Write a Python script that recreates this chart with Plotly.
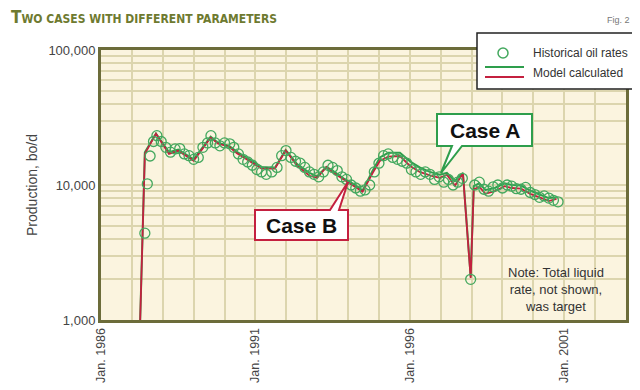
import plotly.graph_objects as go

# ---------------- data ----------------
hist_year = [1987.42, 1987.50, 1987.59, 1987.70, 1987.81, 1987.95, 1988.10, 1988.25, 1988.40, 1988.55,
             1988.70, 1988.85, 1989.00, 1989.15, 1989.30, 1989.45, 1989.56, 1989.70, 1989.85, 1990.00,
             1990.17, 1990.30, 1990.45, 1990.60, 1990.75, 1990.90, 1991.05, 1991.20, 1991.35, 1991.53,
             1991.70, 1991.85, 1991.99, 1992.15, 1992.30, 1992.45, 1992.60, 1992.75, 1992.90, 1993.05,
             1993.20, 1993.35, 1993.50, 1993.65, 1993.80, 1993.95, 1994.10, 1994.25, 1994.40, 1994.55,
             1994.70, 1994.85, 1995.00, 1995.15, 1995.30, 1995.45, 1995.60, 1995.75, 1995.90, 1996.05,
             1996.20, 1996.35, 1996.50, 1996.65, 1996.80, 1996.95, 1997.10, 1997.25, 1997.40, 1997.55,
             1997.70, 1997.97, 1998.10, 1998.25, 1998.40, 1998.55, 1998.70, 1998.85, 1999.00, 1999.15,
             1999.30, 1999.45, 1999.60, 1999.75, 1999.90, 2000.05, 2000.20, 2000.35, 2000.50, 2000.65,
             2000.80]
hist_rate = [4400, 10200, 16400, 21000, 23200, 21000, 19000, 17500, 18500, 18600,
             17000, 16500, 15500, 16000, 19000, 20500, 23200, 20500, 19500, 20500,
             20200, 19000, 17000, 15500, 14800, 14000, 13000, 12500, 12000, 12500,
             13500, 16500, 18000, 16000, 15000, 14500, 13500, 12500, 12000, 11500,
             12500, 14000, 13500, 12800, 11500, 11000, 10000, 9500, 9000, 9200,
             10000, 12500, 14500, 16500, 17000, 16000, 15500, 15000, 14500, 13000,
             12500, 12000, 12500, 12000, 11000, 11500, 10500, 11000, 10000, 10500,
             11200, 2000, 10000, 10500, 9300, 9000, 9700, 10000, 9500, 10000,
             9800, 9400, 9300, 9600, 8800, 8500, 8100, 8300, 8000, 7700,
             7500]

model_year = [1987.26, 1987.42, 1987.78, 1988.20, 1988.50, 1989.00, 1989.55, 1989.80, 1990.15, 1990.40,
              1990.70, 1991.20, 1991.63, 1991.98, 1992.35, 1992.75, 1993.00, 1993.30, 1993.50, 1993.85,
              1994.20, 1994.47, 1994.80, 1995.03, 1995.30, 1995.68, 1996.00, 1996.32, 1996.65, 1996.97,
              1997.20, 1997.46, 1997.72, 1997.97, 1998.07, 1998.25, 1998.45, 1998.75, 1999.07, 1999.30,
              1999.60, 1999.90, 2000.20, 2000.50, 2000.75]
caseA_rate = [850, 17500, 24000, 17500, 18300, 15500, 22800, 20500, 19500, 17600,
              16000, 13600, 13400, 18200, 14300, 12300, 11600, 13600, 12800, 11200,
              10100, 9100, 12800, 16000, 17300, 17300, 15000, 13500, 12500, 11900,
              12300, 10700, 12300, 2100, 9800, 10300, 9200, 9500, 10300, 10000,
              9900, 9100, 8500, 8000, 8100]
caseB_rate = [850, 17000, 24000, 17000, 17900, 15100, 22400, 20200, 19200, 17200,
              15600, 13200, 13200, 18000, 13900, 11700, 11300, 13600, 12400, 11000,
              9700, 8900, 12300, 15100, 16200, 16400, 13900, 12500, 11800, 11300,
              11900, 9900, 12100, 2050, 9300, 9700, 8600, 9000, 9800, 9500,
              9400, 8600, 8100, 7600, 7900]

x_tick_vals = list(range(1986, 2004))
x_tick_text = ["Jan. 1986", "", "", "", "", "Jan. 1991", "", "", "", "", "Jan. 1996", "", "", "", "",
               "Jan. 2001", "", ""]
y_tick_vals = [1000, 2000, 3000, 4000, 5000, 6000, 7000, 8000, 9000,
               10000, 20000, 30000, 40000, 50000, 60000, 70000, 80000, 90000, 100000]
y_tick_text = ["1,000", "", "", "", "", "", "", "", "",
               "10,000", "", "", "", "", "", "", "", "", "100,000"]
note_text = "Note: Total liquid<br>rate, not shown,<br>was target"

# ---------------- layout helpers ----------------
# The page body adds an 8px offset, so the figure is drawn 8px smaller and shifted.
OFF = 8
W, H = 640 - OFF, 390 - OFF
PL, PT, PW, PH = 101, 50, 525, 270          # plot area in screen pixels
L, T = PL - OFF, PT - OFF
R, B = W - L - PW, H - T - PH


def px(x):
    return (x - PL) / PW


def py(y):
    return (PT + PH - y) / PH


FONT = "Liberation Sans, Arial, Helvetica, sans-serif"
GREEN = "#2E9E4C"
RED = "#C4203F"
CIRCLE = "#43A85E"

fig = go.Figure()
fig.add_trace(go.Scatter(x=model_year, y=caseA_rate, mode="lines",
                         line=dict(color=GREEN, width=2), showlegend=False))
fig.add_trace(go.Scatter(x=model_year, y=caseB_rate, mode="lines",
                         line=dict(color=RED, width=1.8), showlegend=False))
fig.add_trace(go.Scatter(x=hist_year, y=hist_rate, mode="markers",
                         marker=dict(symbol="circle-open", size=10, color=CIRCLE, line=dict(width=1.3)),
                         showlegend=False))

grid = "#DCD5AE"
frame = "#6C6C3A"
fig.update_xaxes(range=[1986, 2003], tickmode="array", tickvals=x_tick_vals, ticktext=x_tick_text,
                 tickangle=-90, showgrid=True, gridcolor=grid, gridwidth=2, zeroline=False,
                 showline=True, linecolor=frame, linewidth=3, mirror=True, ticks="", automargin=False,
                 tickfont=dict(family=FONT, size=12.5, color="#444444"))
fig.update_yaxes(type="log", range=[3, 5], tickmode="array", tickvals=y_tick_vals, ticktext=y_tick_text,
                 showgrid=True, gridcolor=grid, gridwidth=2, zeroline=False, automargin=False,
                 showline=True, linecolor=frame, linewidth=3, mirror=True, ticks="",
                 tickfont=dict(family=FONT, size=13, color="#444444"),
                 title=dict(text="Production, bo/d", font=dict(family=FONT, size=14, color="#444444"),
                            standoff=8))

shapes = []
# legend box
shapes.append(dict(type="rect", xref="paper", yref="paper", x0=px(477), x1=px(636), y0=py(89), y1=py(33),
                   fillcolor="white", line=dict(color="#222222", width=1.5), layer="above"))
shapes.append(dict(type="circle", xref="paper", yref="paper", x0=px(498), x1=px(508), y0=py(58), y1=py(48),
                   line=dict(color=CIRCLE, width=1.5), layer="above"))
shapes.append(dict(type="line", xref="paper", yref="paper", x0=px(485), x1=px(524), y0=py(67), y1=py(67),
                   line=dict(color=GREEN, width=2), layer="above"))
shapes.append(dict(type="line", xref="paper", yref="paper", x0=px(485), x1=px(524), y0=py(77), y1=py(77),
                   line=dict(color=RED, width=2), layer="above"))


def path(points):
    return "M " + " L ".join(f"{px(a):.5f},{py(b):.5f}" for a, b in points) + " Z"


# Case A callout
shapes.append(dict(type="path", xref="paper", yref="paper",
                   path=path([(437, 114), (532, 114), (532, 146), (462, 146), (441, 173), (452, 146), (437, 146)]),
                   fillcolor="white", line=dict(color=GREEN, width=2), layer="above"))
# Case B callout
shapes.append(dict(type="path", xref="paper", yref="paper",
                   path=path([(255, 210), (330, 210), (348, 182), (339, 210), (348, 210), (348, 240), (255, 240)]),
                   fillcolor="white", line=dict(color=RED, width=2), layer="above"))

annotations = [
    dict(text="<b><span style='font-size:17px'>T</span>WO CASES WITH DIFFERENT PARAMETERS</b>",
         xref="paper", yref="paper", x=px(9), y=py(29), xanchor="left", yanchor="bottom", showarrow=False,
         font=dict(family="Liberation Sans Narrow, DejaVu Sans Condensed, Arial Narrow, Liberation Sans, sans-serif",
                   size=12, color="#6E7A30")),
    dict(text="Fig. 2", xref="paper", yref="paper", x=px(632), y=py(20), xanchor="right", yanchor="middle",
         showarrow=False, font=dict(family=FONT, size=9, color="#777777")),
    dict(text="Historical oil rates", xref="paper", yref="paper", x=px(531), y=py(53), xanchor="left",
         yanchor="middle", showarrow=False, font=dict(family=FONT, size=12, color="#333333")),
    dict(text="Model calculated", xref="paper", yref="paper", x=px(531), y=py(73), xanchor="left",
         yanchor="middle", showarrow=False, font=dict(family=FONT, size=12, color="#333333")),
    dict(text="<b>Case A</b>", xref="paper", yref="paper", x=px(484.5), y=py(130), xanchor="center",
         yanchor="middle", showarrow=False, font=dict(family=FONT, size=21, color="#111111")),
    dict(text="<b>Case B</b>", xref="paper", yref="paper", x=px(301.5), y=py(225), xanchor="center",
         yanchor="middle", showarrow=False, font=dict(family=FONT, size=21, color="#111111")),
    dict(text=note_text, xref="paper", yref="paper", x=px(556), y=py(289), xanchor="center",
         yanchor="middle", showarrow=False, align="center",
         font=dict(family=FONT, size=13, color="#333333")),
]

fig.update_layout(width=W, height=H, margin=dict(l=L, r=R, t=T, b=B, pad=0),
                  paper_bgcolor="white", plot_bgcolor="#FBF4DF",
                  shapes=shapes, annotations=annotations, showlegend=False)

fig.write_html("out.html")
